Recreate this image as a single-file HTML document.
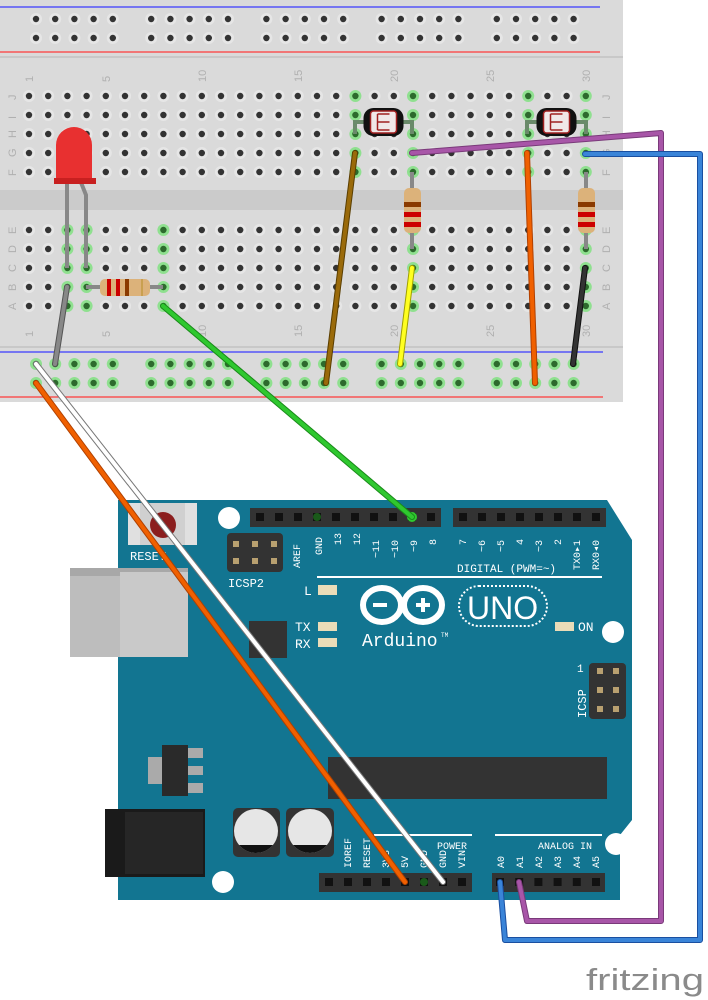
<!DOCTYPE html>
<html><head><meta charset="utf-8"><style>
html,body{margin:0;padding:0;background:#fff;width:708px;height:1000px;overflow:hidden}
svg{display:block}
text{font-family:"Liberation Mono","DejaVu Sans Mono",monospace}
.sans text, text.sans{font-family:"Liberation Sans",sans-serif}
</style></head><body>
<svg id="s" width="708" height="1000" viewBox="0 0 708 1000" xmlns="http://www.w3.org/2000/svg">
<rect x="0" y="0" width="623" height="402" fill="#dadada"/>
<rect x="0" y="190" width="623" height="20" fill="#cbcbcb"/>
<line x1="0" y1="7" x2="600" y2="7" stroke="#3a3aff" stroke-width="1.2"/>
<line x1="0" y1="52" x2="600" y2="52" stroke="#ff3a3a" stroke-width="1.2"/>
<line x1="0" y1="57" x2="623" y2="57" stroke="#bdbdbd" stroke-width="1.2"/>
<line x1="0" y1="347" x2="623" y2="347" stroke="#bdbdbd" stroke-width="1.2"/>
<line x1="0" y1="352" x2="603" y2="352" stroke="#3a3aff" stroke-width="1.2"/>
<line x1="0" y1="397" x2="603" y2="397" stroke="#ff3a3a" stroke-width="1.2"/>
<g id="holes"></g>
<g class="sans" fill="#b0b0b0" font-size="11">
<text transform="translate(33,82) rotate(-90)">1</text>
<text transform="translate(110,82) rotate(-90)">5</text>
<text transform="translate(206,82) rotate(-90)">10</text>
<text transform="translate(302,82) rotate(-90)">15</text>
<text transform="translate(398,82) rotate(-90)">20</text>
<text transform="translate(494,82) rotate(-90)">25</text>
<text transform="translate(590,82) rotate(-90)">30</text>
<text transform="translate(33,337) rotate(-90)">1</text>
<text transform="translate(110,337) rotate(-90)">5</text>
<text transform="translate(206,337) rotate(-90)">10</text>
<text transform="translate(302,337) rotate(-90)">15</text>
<text transform="translate(398,337) rotate(-90)">20</text>
<text transform="translate(494,337) rotate(-90)">25</text>
<text transform="translate(590,337) rotate(-90)">30</text>
<text transform="translate(16,100) rotate(-90)">J</text><text transform="translate(16,119) rotate(-90)">I</text><text transform="translate(16,138) rotate(-90)">H</text><text transform="translate(16,157) rotate(-90)">G</text><text transform="translate(16,176) rotate(-90)">F</text>
<text transform="translate(16,234) rotate(-90)">E</text><text transform="translate(16,253) rotate(-90)">D</text><text transform="translate(16,272) rotate(-90)">C</text><text transform="translate(16,291) rotate(-90)">B</text><text transform="translate(16,310) rotate(-90)">A</text>
<text transform="translate(610,100) rotate(-90)">J</text><text transform="translate(610,119) rotate(-90)">I</text><text transform="translate(610,138) rotate(-90)">H</text><text transform="translate(610,157) rotate(-90)">G</text><text transform="translate(610,176) rotate(-90)">F</text>
<text transform="translate(610,234) rotate(-90)">E</text><text transform="translate(610,253) rotate(-90)">D</text><text transform="translate(610,272) rotate(-90)">C</text><text transform="translate(610,291) rotate(-90)">B</text><text transform="translate(610,310) rotate(-90)">A</text>
</g>

<path d="M118,500 H607 L632,540 V820 L620,835 V900 H118 Z" fill="#127591"/>
<circle cx="229" cy="518" r="11" fill="#fff"/>
<circle cx="613" cy="632" r="11" fill="#fff"/>
<circle cx="223" cy="882" r="11" fill="#fff"/>
<circle cx="616" cy="844" r="11" fill="#fff"/>
<rect x="128" y="503" width="69" height="42" fill="#e0e0e0"/>
<rect x="140" y="503" width="45" height="42" fill="#d0d0d0"/>
<circle cx="163" cy="525" r="13" fill="#8b1e1e"/>
<text x="130" y="560" fill="#fff" font-size="12">RESET</text>
<rect x="70" y="572" width="118" height="85" fill="#bdbdbd"/>
<rect x="70" y="568" width="118" height="8" fill="#a8a8a8"/>
<rect x="120" y="572" width="68" height="85" fill="#c9c9c9"/>
<rect x="227" y="533" width="56" height="39" rx="4" fill="#333"/>
<g fill="#b8a070"><rect x="233" y="541" width="6" height="6"/><rect x="252" y="541" width="6" height="6"/><rect x="271" y="541" width="6" height="6"/><rect x="233" y="558" width="6" height="6"/><rect x="252" y="558" width="6" height="6"/><rect x="271" y="558" width="6" height="6"/></g>
<text x="228" y="587" fill="#fff" font-size="12">ICSP2</text>
<rect x="250" y="508" width="191" height="19" fill="#333"/>
<rect x="453" y="508" width="153" height="19" fill="#333"/>
<g id="dpins" fill="#111"></g>
<g fill="#fff" font-size="10">
<text transform="translate(300,568) rotate(-90)">AREF</text>
<text transform="translate(322,555) rotate(-90)">GND</text>
<text transform="translate(341,545) rotate(-90)">13</text>
<text transform="translate(360,545) rotate(-90)">12</text>
<text transform="translate(379,558) rotate(-90)">~11</text>
<text transform="translate(398,558) rotate(-90)">~10</text>
<text transform="translate(417,552) rotate(-90)">~9</text>
<text transform="translate(436,545) rotate(-90)">8</text>
<text transform="translate(466,545) rotate(-90)">7</text>
<text transform="translate(485,552) rotate(-90)">~6</text>
<text transform="translate(504,552) rotate(-90)">~5</text>
<text transform="translate(523,545) rotate(-90)">4</text>
<text transform="translate(542,552) rotate(-90)">~3</text>
<text transform="translate(561,545) rotate(-90)">2</text>
<text transform="translate(580,570) rotate(-90)">TX0▸1</text>
<text transform="translate(599,570) rotate(-90)">RX0◂0</text>
<text x="457" y="572" font-size="11">DIGITAL (PWM=~)</text>
</g>
<line x1="317" y1="577" x2="602" y2="577" stroke="#fff" stroke-width="2"/>
<g fill="#eadcb8"><rect x="318" y="585" width="19" height="10"/><rect x="318" y="622" width="19" height="9"/><rect x="318" y="638" width="19" height="9"/><rect x="555" y="622" width="19" height="9"/></g>
<g fill="#fff" font-size="13"><text x="304" y="595">L</text><text x="295" y="631">TX</text><text x="295" y="648">RX</text><text x="578" y="631">ON</text></g>
<rect x="249" y="621" width="38" height="37" fill="#333"/>
<g fill="none" stroke="#fff" stroke-width="6">
<ellipse cx="382" cy="605" rx="19" ry="17"/><ellipse cx="423" cy="605" rx="19" ry="17"/>
</g>
<rect x="373" y="603" width="14" height="4" fill="#fff"/>
<rect x="416" y="603" width="14" height="4" fill="#fff"/><rect x="421" y="598" width="4" height="14" fill="#fff"/>
<rect x="459" y="586" width="88" height="40" rx="20" fill="none" stroke="#fff" stroke-width="2" stroke-dasharray="2 2"/>
<text class="sans" x="467" y="619" fill="#fff" font-size="32">UNO</text>
<text x="362" y="646" fill="#fff" font-size="18">Arduino</text>
<text x="441" y="637" fill="#fff" font-size="6">TM</text>
<rect x="589" y="663" width="37" height="56" rx="4" fill="#333"/>
<g fill="#b8a070"><rect x="597" y="668" width="6" height="6"/><rect x="613" y="668" width="6" height="6"/><rect x="597" y="687" width="6" height="6"/><rect x="613" y="687" width="6" height="6"/><rect x="597" y="706" width="6" height="6"/><rect x="613" y="706" width="6" height="6"/></g>
<text transform="translate(586,718) rotate(-90)" fill="#fff" font-size="12">ICSP</text>
<text x="577" y="672" fill="#fff" font-size="11">1</text>
<rect x="148" y="757" width="14" height="27" fill="#aaa"/>
<rect x="162" y="745" width="26" height="51" fill="#2a2a2a"/>
<g fill="#aaa"><rect x="188" y="748" width="15" height="10"/><rect x="188" y="766" width="15" height="9"/><rect x="188" y="783" width="15" height="10"/></g>
<rect x="328" y="757" width="279" height="42" fill="#333"/>
<rect x="105" y="809" width="100" height="68" fill="#1a1a1a"/>
<rect x="125" y="812" width="78" height="62" fill="#262626"/>
<rect x="233" y="808" width="47" height="49" rx="5" fill="#333"/>
<rect x="286" y="808" width="48" height="49" rx="5" fill="#333"/>
<clipPath id="c1"><circle cx="256" cy="831" r="22"/></clipPath>
<clipPath id="c2"><circle cx="310" cy="831" r="22"/></clipPath>
<circle cx="256" cy="831" r="22" fill="#e6e6e6"/><rect x="230" y="845" width="52" height="15" fill="#111" clip-path="url(#c1)"/>
<circle cx="310" cy="831" r="22" fill="#e6e6e6"/><rect x="284" y="845" width="52" height="15" fill="#111" clip-path="url(#c2)"/>
<rect x="319" y="873" width="153" height="19" fill="#333"/>
<rect x="492" y="873" width="113" height="19" fill="#333"/>
<g id="bpins"></g>
<line x1="374" y1="835" x2="472" y2="835" stroke="#fff" stroke-width="2"/>
<line x1="495" y1="835" x2="602" y2="835" stroke="#fff" stroke-width="2"/>
<g fill="#fff" font-size="10">
<text x="437" y="849">POWER</text>
<text x="538" y="849">ANALOG IN</text>
<text transform="translate(351,868) rotate(-90)">IOREF</text>
<text transform="translate(370,868) rotate(-90)">RESET</text>
<text transform="translate(389,868) rotate(-90)">3V3</text>
<text transform="translate(408,868) rotate(-90)">5V</text>
<text transform="translate(427,868) rotate(-90)">GND</text>
<text transform="translate(446,868) rotate(-90)">GND</text>
<text transform="translate(465,868) rotate(-90)">VIN</text>
<text transform="translate(504,868) rotate(-90)">A0</text>
<text transform="translate(523,868) rotate(-90)">A1</text>
<text transform="translate(542,868) rotate(-90)">A2</text>
<text transform="translate(561,868) rotate(-90)">A3</text>
<text transform="translate(580,868) rotate(-90)">A4</text>
<text transform="translate(599,868) rotate(-90)">A5</text>
</g>
<text class="sans" x="586" y="990" fill="#8a8a8a" font-size="31" textLength="118" lengthAdjust="spacingAndGlyphs">fritzing</text>

<path d="M67,180 V268" stroke="#888" stroke-width="4" fill="none"/>
<path d="M80,180 L86,195 V268" stroke="#888" stroke-width="4" fill="none"/>
<path d="M56,145 a18,18 0 0 1 36,0 V180 H56 Z" fill="#e83030"/>
<rect x="54" y="178" width="42" height="6" fill="#c82020"/>
<line x1="86" y1="287" x2="163" y2="287" stroke="#888" stroke-width="4"/>
<rect x="100" y="279" width="50" height="17" rx="5" fill="#dcb27a"/>
<rect x="107" y="279" width="4" height="17" fill="#c00"/><rect x="116" y="279" width="4" height="17" fill="#c00"/><rect x="125" y="279" width="4" height="17" fill="#8a3a00"/><rect x="141" y="279" width="2" height="17" fill="#c9a050"/>
<g id="vr"></g>
<g id="ldr"></g>

<g stroke-linecap="round" fill="none">
<line x1="67" y1="287" x2="55" y2="364" stroke="#555" stroke-width="6"/><line x1="67" y1="287" x2="55" y2="364" stroke="#888" stroke-width="4"/>
<line x1="163" y1="306" x2="412" y2="517" stroke="#1a8a1a" stroke-width="6"/><line x1="163" y1="306" x2="412" y2="517" stroke="#2fc82f" stroke-width="4"/>
<line x1="355" y1="153" x2="326" y2="383" stroke="#5a3e00" stroke-width="6"/><line x1="355" y1="153" x2="326" y2="383" stroke="#9a6a0a" stroke-width="4"/>
<line x1="412" y1="268" x2="400" y2="364" stroke="#a0a000" stroke-width="6"/><line x1="412" y1="268" x2="400" y2="364" stroke="#ffff20" stroke-width="4"/>
<line x1="527" y1="153" x2="535" y2="383" stroke="#b04000" stroke-width="6"/><line x1="527" y1="153" x2="535" y2="383" stroke="#f06000" stroke-width="4"/>
<line x1="585" y1="268" x2="573" y2="364" stroke="#111" stroke-width="6"/><line x1="585" y1="268" x2="573" y2="364" stroke="#333" stroke-width="4"/>
<polyline points="412,153 661,133 661,921 527,921 519,882" stroke="#7a3a7a" stroke-width="6" stroke-linejoin="round"/><polyline points="412,153 661,133 661,921 527,921 519,882" stroke="#a856a8" stroke-width="4" stroke-linejoin="round"/>
<polyline points="585,154 700,154 700,940 505,940 500,882" stroke="#1a4fa0" stroke-width="6" stroke-linejoin="round"/><polyline points="585,154 700,154 700,940 505,940 500,882" stroke="#3a84d8" stroke-width="4" stroke-linejoin="round"/>
<line x1="36" y1="383" x2="405" y2="882" stroke="#b04000" stroke-width="6"/><line x1="36" y1="383" x2="405" y2="882" stroke="#f06000" stroke-width="4"/>
<line x1="36" y1="364" x2="443" y2="882" stroke="#777" stroke-width="6"/><line x1="36" y1="364" x2="443" y2="882" stroke="#fff" stroke-width="4"/>
</g>
</svg>
<script>
(function(){
var NS="http://www.w3.org/2000/svg";
function el(p,t,a){var e=document.createElementNS(NS,t);for(var k in a)e.setAttribute(k,a[k]);p.appendChild(e);return e;}
var H=document.getElementById('holes');
function hole(x,y,g){el(H,'circle',{cx:x,cy:y,r:6,fill:g?'#8fe08f':'#e6e6e6'});el(H,'circle',{cx:x,cy:y,r:3.2,fill:g?'#2d6a2d':'#333'});}
function cx(c){return 29+19.2*(c-1);}
var rowsT=[96,115,134,153,172],rowsB=[230,249,268,287,306];
var gT={18:1,21:1,27:1,30:1},gB={3:1,4:1,8:1,21:1,30:1};
for(var c=1;c<=30;c++){for(var j=0;j<5;j++){hole(cx(c),rowsT[j],gT[c]);hole(cx(c),rowsB[j],gB[c]);}}
for(var g=0;g<5;g++)for(var i=0;i<5;i++){var x=36+g*115.2+i*19.2;hole(x,19,0);hole(x,38,0);hole(x,364,1);hole(x,383,1);}
var D=document.getElementById('dpins');
for(var i=0;i<10;i++){var x=260+i*19;el(D,'rect',{x:x-4,y:513,width:8,height:8,fill:'#111'});}
for(var i=0;i<8;i++){var x=463+i*19;el(D,'rect',{x:x-4,y:513,width:8,height:8,fill:'#111'});}
el(D,'circle',{cx:317,cy:517,r:4,fill:'#1a5a1a'});el(D,'circle',{cx:412,cy:517,r:5,fill:'#2fc82f'});
var B=document.getElementById('bpins');
for(var i=0;i<8;i++){var x=329+i*19;el(B,'rect',{x:x-4,y:878,width:8,height:8,fill:'#111'});}
for(var i=0;i<6;i++){var x=500+i*19.2;el(B,'rect',{x:x-4,y:878,width:8,height:8,fill:'#111'});}
el(B,'circle',{cx:424,cy:882,r:4,fill:'#1a5a1a'});
var V=document.getElementById('vr');
[412,586].forEach(function(x){el(V,'line',{x1:x,y1:172,x2:x,y2:249,stroke:'#888','stroke-width':4});
el(V,'rect',{x:x-8,y:188,width:17,height:45,rx:5,fill:'#dcb27a'});
[[202,'#8a3a00'],[212,'#c00'],[222,'#c00']].forEach(function(b){el(V,'rect',{x:x-8,y:b[0],width:17,height:5,fill:b[1]});});});
var L=document.getElementById('ldr');
[[355,412],[527,586]].forEach(function(p){var m=(p[0]+p[1])/2;
el(L,'path',{d:'M'+p[0]+',134 V122 H'+p[1]+' V134',stroke:'#6a8a6a','stroke-width':4,fill:'none'});
el(L,'rect',{x:m-20,y:108,width:40,height:28,rx:10,fill:'#111'});
el(L,'rect',{x:m-13,y:111,width:26,height:22,rx:3,fill:'#f0e8e8',stroke:'#a02020','stroke-width':1.5});
el(L,'path',{d:'M'+(m-6)+',114 H'+(m+6)+' M'+(m-6)+',122 H'+(m+6)+' M'+(m-6)+',130 H'+(m+6)+' M'+(m-6)+',114 V130',stroke:'#a02020','stroke-width':1.5,fill:'none'});});
})();
</script>
</body></html>
